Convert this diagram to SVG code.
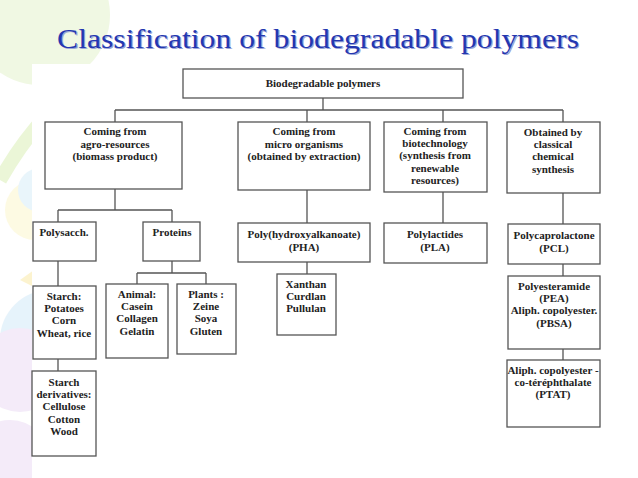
<svg xmlns="http://www.w3.org/2000/svg" width="638" height="478" viewBox="0 0 638 478">
<style>
.b{fill:#fff;stroke:#555;stroke-width:1.3}
.t{font-family:'Liberation Serif','Times New Roman','DejaVu Serif',serif;font-weight:bold;font-size:11px;fill:#222;text-anchor:middle}
.h{font-family:'Liberation Serif','Times New Roman','DejaVu Serif',serif;font-size:28px;text-anchor:middle}
#c path{fill:none;stroke:#555;stroke-width:1.3}
</style>
<rect width="638" height="478" fill="#fff"/>
<g opacity="0.5">
<circle cx="40" cy="15" r="70" fill="#e2f2c8"/>
<path d="M0 180 Q40 110 90 80" stroke="#d8efb0" stroke-width="14" fill="none"/>
<circle cx="35" cy="210" r="30" fill="#fdf7c8"/>
<circle cx="40" cy="190" r="22" fill="#d5ecf8"/>
<circle cx="50" cy="340" r="50" fill="#cfe8f8"/>
<circle cx="20" cy="370" r="42" fill="#ead8f4"/>
<circle cx="10" cy="460" r="40" fill="#ead8f4"/>
<path d="M20 280 l14 -10 l-2 16 z" fill="#fbe9a0"/>
<path d="M60 455 l10 -12 l6 14 z" fill="#fbe9a0"/>
</g>
<rect x="32" y="64" width="606" height="414" fill="#fff"/>
<text class="h" x="318" y="48" fill="#9aa6d8" transform="translate(1.2,1.2)" textLength="522" lengthAdjust="spacingAndGlyphs">Classification of biodegradable polymers</text>
<text class="h" x="318" y="48" fill="#2437b0" textLength="522" lengthAdjust="spacingAndGlyphs">Classification of biodegradable polymers</text>
<g id="c">
<path d="M323 98V110M115 110H563M115 110V122M307 110V122M443 110V122M563 110V122"/>
<path d="M115 189V210M58 210H172M58 210V222M172 210V222"/>
<path d="M307 190V223M443 192V223M563 193V224"/>
<path d="M58 261V286M58 359V371"/>
<path d="M172 261V273M137 273H206M137 273V284M206 273V284"/>
<path d="M307 262V274M563 264V276M563 349V360"/>
</g>
<g id="root"><rect class="b" x="183" y="69" width="280" height="29"/><text class="t" x="323" y="87" font-size="12">Biodegradable polymers</text></g>
<g id="agro"><rect class="b" x="45" y="122" width="137" height="67"/><text class="t" x="115" y="135">Coming from<tspan x="115" dy="12.5">agro-resources</tspan><tspan x="115" dy="12.5">(biomass product)</tspan></text></g>
<g id="micro"><rect class="b" x="238" y="122" width="132" height="68"/><text class="t" x="304" y="135">Coming from<tspan x="304" dy="12.5">micro organisms</tspan><tspan x="304" dy="12.5">(obtained by extraction)</tspan></text></g>
<g id="biotech"><rect class="b" x="384" y="122" width="103" height="70"/><text class="t" x="435" y="135">Coming from<tspan x="435" dy="12.2">biotechnology</tspan><tspan x="435" dy="12.2">(synthesis from</tspan><tspan x="435" dy="12.2">renewable</tspan><tspan x="435" dy="12.2">resources)</tspan></text></g>
<g id="chem"><rect class="b" x="507" y="122" width="93" height="71"/><text class="t" x="553" y="136">Obtained by<tspan x="553" dy="12.2">classical</tspan><tspan x="553" dy="12.2">chemical</tspan><tspan x="553" dy="12.2">synthesis</tspan></text></g>
<g id="polysacch"><rect class="b" x="33" y="222" width="63" height="39"/><text class="t" x="64" y="236">Polysacch.</text></g>
<g id="proteins"><rect class="b" x="143" y="222" width="57" height="39"/><text class="t" x="172" y="236">Proteins</text></g>
<g id="pha"><rect class="b" x="238" y="223" width="132" height="39"/><text class="t" x="304" y="238">Poly(hydroxyalkanoate)<tspan x="304" dy="12.5">(PHA)</tspan></text></g>
<g id="pla"><rect class="b" x="384" y="223" width="103" height="40"/><text class="t" x="435" y="238">Polylactides<tspan x="435" dy="12.5">(PLA)</tspan></text></g>
<g id="pcl"><rect class="b" x="508" y="224" width="92" height="40"/><text class="t" x="554" y="239">Polycaprolactone<tspan x="554" dy="12.5">(PCL)</tspan></text></g>
<g id="starch"><rect class="b" x="33" y="286" width="63" height="73"/><text class="t" x="64" y="300">Starch:<tspan x="64" dy="12.2">Potatoes</tspan><tspan x="64" dy="12.2">Corn</tspan><tspan x="64" dy="12.2">Wheat, rice</tspan></text></g>
<g id="starchder"><rect class="b" x="32" y="371" width="64" height="85"/><text class="t" x="64" y="386">Starch<tspan x="64" dy="12.2">derivatives:</tspan><tspan x="64" dy="12.2">Cellulose</tspan><tspan x="64" dy="12.2">Cotton</tspan><tspan x="64" dy="12.2">Wood</tspan></text></g>
<g id="animal"><rect class="b" x="106" y="284" width="62" height="74"/><text class="t" x="137" y="298">Animal:<tspan x="137" dy="12.2">Casein</tspan><tspan x="137" dy="12.2">Collagen</tspan><tspan x="137" dy="12.2">Gelatin</tspan></text></g>
<g id="plants"><rect class="b" x="177" y="284" width="59" height="70"/><text class="t" x="206" y="298">Plants :<tspan x="206" dy="12.2">Zeine</tspan><tspan x="206" dy="12.2">Soya</tspan><tspan x="206" dy="12.2">Gluten</tspan></text></g>
<g id="xanthan"><rect class="b" x="277" y="274" width="59" height="61"/><text class="t" x="306" y="288">Xanthan<tspan x="306" dy="12.2">Curdlan</tspan><tspan x="306" dy="12.2">Pullulan</tspan></text></g>
<g id="pea"><rect class="b" x="508" y="276" width="92" height="73"/><text class="t" x="554" y="290">Polyesteramide<tspan x="554" dy="12.2">(PEA)</tspan><tspan x="554" dy="12.2">Aliph. copolyester.</tspan><tspan x="554" dy="12.2">(PBSA)</tspan></text></g>
<g id="ptat"><rect class="b" x="507" y="360" width="93" height="67"/><text class="t" x="553" y="374" font-size="10.3">Aliph. copolyester -<tspan x="553" dy="12.2">co-téréphthalate</tspan><tspan x="553" dy="12.2">(PTAT)</tspan></text></g>
</svg>
